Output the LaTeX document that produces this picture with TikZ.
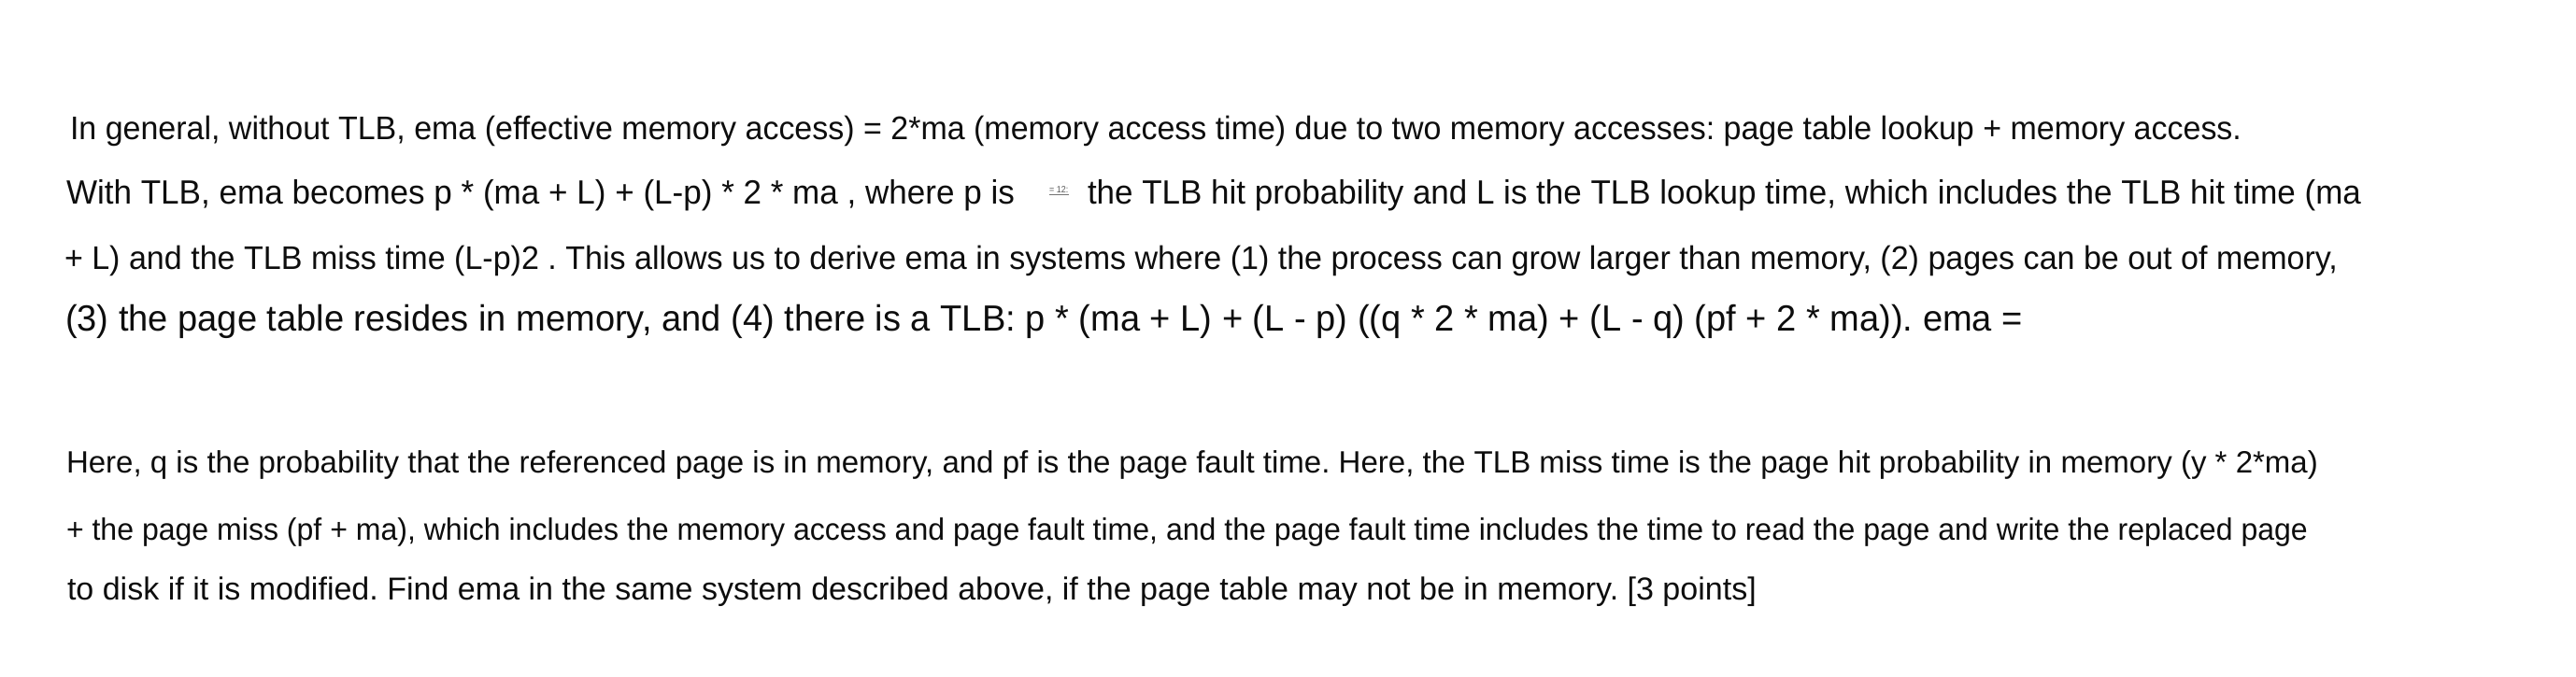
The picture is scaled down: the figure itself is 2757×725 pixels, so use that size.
\documentclass[tikz,border=0pt]{standalone}
\usepackage{graphicx}
\usepackage{fontspec}
\setmainfont{Liberation Sans}
\frenchspacing
\tikzset{line/.style={anchor=base west,inner sep=0pt,outer sep=0pt,text=black!95},
 tiny/.style={anchor=base west,inner sep=0pt,outer sep=0pt,text=black!65,font=\fontsize{10}{10}\selectfont}}
\newcommand\fitw[2]{\resizebox{#1pt}{\height}{#2}}
\begin{document}
\begin{tikzpicture}[x=1pt,y=-1pt]
\useasboundingbox (0,0) rectangle (2757,725);
\fill[white] (0,0) rectangle (2757,725);
\node[line,font=\fontsize{35}{35}\selectfont] (l1) at (75,149) {\fitw{2324}{In general, without TLB, ema (effective memory access) = 2*ma (memory access time) due to two memory accesses: page table lookup + memory access.}};
\node[line,font=\fontsize{36}{36}\selectfont] (l2) at (71,218) {\fitw{1015}{With TLB, ema becomes p * (ma + L) + (L-p) * 2 * ma , where p is}};
\node[tiny] (l2b) at (1123,206) {\scalebox{0.9}[1]{= 12:}};
\draw[black!55,line width=0.6pt] (l2b.south west) ++(0,2) -- ++(21,0);
\node[line,font=\fontsize{36}{36}\selectfont] (l2c) at (1164,218) {\fitw{1363}{the TLB hit probability and L is the TLB lookup time, which includes the TLB hit time (ma}};
\node[line,font=\fontsize{35}{35}\selectfont] (l3) at (69,288) {\fitw{2433}{+ L) and the TLB miss time (L-p)2 . This allows us to derive ema in systems where (1) the process can grow larger than memory, (2) pages can be out of memory,}};
\node[line,font=\fontsize{39}{39}\selectfont] (l4) at (70,354) {\fitw{2095}{(3) the page table resides in memory, and (4) there is a TLB: p * (ma + L) + (L - p) ((q * 2 * ma) + (L - q) (pf + 2 * ma)). ema =}};
\node[line,font=\fontsize{33}{33}\selectfont] (l5) at (71,506) {\fitw{2410}{Here, q is the probability that the referenced page is in memory, and pf is the page fault time. Here, the TLB miss time is the page hit probability in memory (y * 2*ma)}};
\node[line,font=\fontsize{33}{33}\selectfont] (l6) at (71,578) {\fitw{2399}{+ the page miss (pf + ma), which includes the memory access and page fault time, and the page fault time includes the time to read the page and write the replaced page}};
\node[line,font=\fontsize{34}{34}\selectfont] (l7) at (72,642) {\fitw{1808}{to disk if it is modified. Find ema in the same system described above, if the page table may not be in memory. [3 points]}};
\end{tikzpicture}
\end{document}
